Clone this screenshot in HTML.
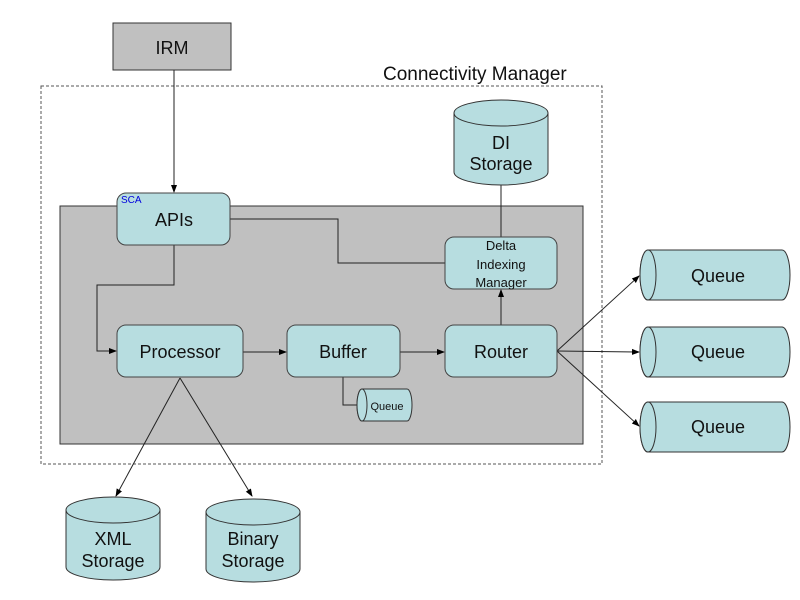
<!DOCTYPE html>
<html><head><style>body{margin:0;background:#fff}svg{display:block}text{font-family:"Liberation Sans",sans-serif;fill:#111}</style></head><body>
<svg width="800" height="600" viewBox="0 0 800 600" xmlns="http://www.w3.org/2000/svg">
<defs><marker id="a" markerWidth="8" markerHeight="8" refX="7" refY="4" orient="auto" markerUnits="userSpaceOnUse"><path d="M0,1 L8,4 L0,7 z" fill="#000"/></marker></defs>
<rect x="41" y="86" width="561" height="378" fill="none" stroke="#555" stroke-dasharray="3,2"/>
<text x="383" y="80" font-size="19">Connectivity Manager</text>
<rect x="60" y="206" width="523" height="238" fill="#c0c0c0" stroke="#333"/>
<rect x="113" y="23" width="118" height="47" fill="#c0c0c0" stroke="#333"/>
<text x="172" y="54" font-size="18" text-anchor="middle">IRM</text>
<g stroke="#222" fill="none" stroke-width="1">
<line x1="174" y1="70" x2="174" y2="192" marker-end="url(#a)"/>
<polyline points="230,219 338,219 338,263 445,263"/>
<polyline points="174,245 174,285 97,285 97,351 116,351" marker-end="url(#a)"/>
<line x1="243" y1="352" x2="286" y2="352" marker-end="url(#a)"/>
<line x1="400" y1="352" x2="444" y2="352" marker-end="url(#a)"/>
<line x1="501" y1="325" x2="501" y2="290" marker-end="url(#a)"/>
<line x1="501" y1="237" x2="501" y2="185"/>
<polyline points="343,377 343,405 357,405"/>
<line x1="180" y1="378" x2="116" y2="496" marker-end="url(#a)"/>
<line x1="180" y1="378" x2="252" y2="496" marker-end="url(#a)"/>
<line x1="557" y1="351" x2="639" y2="276" marker-end="url(#a)"/>
<line x1="557" y1="351" x2="639" y2="352" marker-end="url(#a)"/>
<line x1="557" y1="351" x2="639" y2="426" marker-end="url(#a)"/>
</g>
<g fill="#b7dde0" stroke="#444">
<rect x="117" y="193" width="113" height="52" rx="9"/>
<rect x="445" y="237" width="112" height="52" rx="9"/>
<rect x="117" y="325" width="126" height="52" rx="9"/>
<rect x="287" y="325" width="113" height="52" rx="9"/>
<rect x="445" y="325" width="112" height="52" rx="9"/>
</g>
<text x="121" y="203" font-size="10" style="fill:#0000dd">SCA</text>
<text x="174" y="226" font-size="18" text-anchor="middle">APIs</text>
<text x="501" y="250" font-size="13" text-anchor="middle">Delta</text>
<text x="501" y="269" font-size="13" text-anchor="middle">Indexing</text>
<text x="501" y="287" font-size="13" text-anchor="middle">Manager</text>
<text x="180" y="358" font-size="18" text-anchor="middle">Processor</text>
<text x="343" y="358" font-size="18" text-anchor="middle">Buffer</text>
<text x="501" y="358" font-size="18" text-anchor="middle">Router</text>
<!-- small queue -->
<g fill="#b7dde0" stroke="#333">
<path d="M362,389 H407 A5,16 0 0 1 407,421 H362 A5,16 0 0 1 362,389 Z"/>
<ellipse cx="362" cy="405" rx="5" ry="16"/>
</g>
<text x="387" y="410" font-size="11" text-anchor="middle">Queue</text>
<!-- right queues -->
<g fill="#b7dde0" stroke="#333">
<path d="M648,250 H782 A8,25 0 0 1 782,300 H648 A8,25 0 0 1 648,250 Z"/><ellipse cx="648" cy="275" rx="8" ry="25"/>
<path d="M648,327 H782 A8,25 0 0 1 782,377 H648 A8,25 0 0 1 648,327 Z"/><ellipse cx="648" cy="352" rx="8" ry="25"/>
<path d="M648,402 H782 A8,25 0 0 1 782,452 H648 A8,25 0 0 1 648,402 Z"/><ellipse cx="648" cy="427" rx="8" ry="25"/>
</g>
<text x="718" y="282" font-size="18" text-anchor="middle">Queue</text>
<text x="718" y="358" font-size="18" text-anchor="middle">Queue</text>
<text x="718" y="433" font-size="18" text-anchor="middle">Queue</text>
<!-- storages -->
<g fill="#b7dde0" stroke="#333">
<path d="M454,113 V172 A47,13 0 0 0 548,172 V113 Z"/><ellipse cx="501" cy="113" rx="47" ry="13"/>
<path d="M66,510 V567 A47,13 0 0 0 160,567 V510 Z"/><ellipse cx="113" cy="510" rx="47" ry="13"/>
<path d="M206,512 V569 A47,13 0 0 0 300,569 V512 Z"/><ellipse cx="253" cy="512" rx="47" ry="13"/>
</g>
<text x="501" y="149" font-size="18" text-anchor="middle">DI</text>
<text x="501" y="170" font-size="18" text-anchor="middle">Storage</text>
<text x="113" y="545" font-size="18" text-anchor="middle">XML</text>
<text x="113" y="567" font-size="18" text-anchor="middle">Storage</text>
<text x="253" y="545" font-size="18" text-anchor="middle">Binary</text>
<text x="253" y="567" font-size="18" text-anchor="middle">Storage</text>
</svg>
</body></html>
